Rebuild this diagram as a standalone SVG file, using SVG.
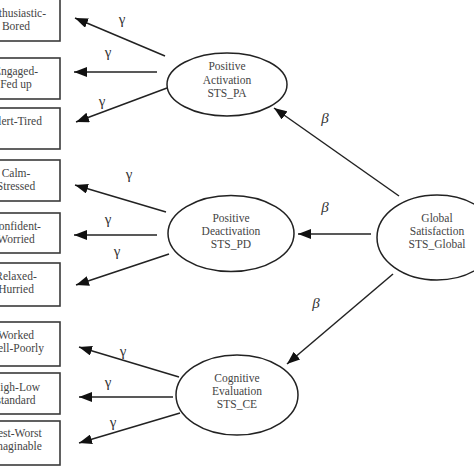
<svg xmlns="http://www.w3.org/2000/svg" width="474" height="474" viewBox="0 0 474 474">
<style>
.box{fill:#fff;stroke:#3a3a3a;stroke-width:1.6}
.ell{fill:#fff;stroke:#222;stroke-width:1.5}
.t{font-family:"Liberation Serif","Times New Roman",serif;font-size:11.5px;fill:#444;text-anchor:middle}
.c{stroke:#222;stroke-width:1.5;fill:none;marker-end:url(#ah)}
.g{font-family:"Liberation Serif","Times New Roman",serif;font-size:15px;fill:#333;text-anchor:middle}
.b{font-family:"Liberation Serif","Times New Roman",serif;font-size:15px;font-style:italic;fill:#333;text-anchor:middle}
</style>
<defs>
<marker id="ah" markerUnits="userSpaceOnUse" markerWidth="14" markerHeight="10" refX="13" refY="5" orient="auto">
<path d="M0,0 L13,5 L0,10 z" fill="#111"/>
</marker>
</defs>
<rect width="474" height="474" fill="#fff"/>
<g id="connectors">
<line class="c" x1="165" y1="56" x2="75" y2="18"/>
<line class="c" x1="157" y1="72" x2="74" y2="72"/>
<line class="c" x1="167" y1="88" x2="76" y2="122"/>
<line class="c" x1="166" y1="212" x2="75" y2="185"/>
<line class="c" x1="157" y1="235" x2="74" y2="235"/>
<line class="c" x1="169" y1="254" x2="76" y2="285"/>
<line class="c" x1="179" y1="377" x2="79" y2="347"/>
<line class="c" x1="173" y1="397" x2="79" y2="397"/>
<line class="c" x1="180" y1="413" x2="79" y2="443"/>
<line class="c" x1="399" y1="196" x2="274" y2="108"/>
<line class="c" x1="371" y1="234" x2="298" y2="234"/>
<line class="c" x1="393" y1="274" x2="287" y2="364"/>
<text class="g" x="122" y="24">γ</text>
<text class="g" x="108" y="57">γ</text>
<text class="g" x="102" y="106">γ</text>
<text class="g" x="129" y="179">γ</text>
<text class="g" x="108" y="224">γ</text>
<text class="g" x="117" y="256">γ</text>
<text class="g" x="123" y="356">γ</text>
<text class="g" x="108" y="387">γ</text>
<text class="g" x="113" y="427">γ</text>
<text class="b" x="325" y="123">β</text>
<text class="b" x="325" y="212">β</text>
<text class="b" x="316" y="308">β</text>
</g>
<g id="box1"><rect class="box" x="-28" y="-2" width="88" height="43"/><text class="t" x="16" y="17">Enthusiastic-</text><text class="t" x="16" y="30">Bored</text></g>
<g id="box2"><rect class="box" x="-28" y="58" width="88" height="41"/><text class="t" x="16" y="75">Engaged-</text><text class="t" x="16" y="88">Fed up</text></g>
<g id="box3"><rect class="box" x="-28" y="108" width="88" height="41"/><text class="t" x="16" y="125">Alert-Tired</text></g>
<g id="box4"><rect class="box" x="-28" y="160" width="88" height="41"/><text class="t" x="16" y="177">Calm-</text><text class="t" x="16" y="190">Stressed</text></g>
<g id="box5"><rect class="box" x="-28" y="213" width="88" height="40"/><text class="t" x="16" y="230">Confident-</text><text class="t" x="16" y="243">Worried</text></g>
<g id="box6"><rect class="box" x="-28" y="263" width="88" height="43"/><text class="t" x="16" y="280">Relaxed-</text><text class="t" x="16" y="293">Hurried</text></g>
<g id="box7"><rect class="box" x="-28" y="322" width="88" height="44"/><text class="t" x="16" y="339">Worked</text><text class="t" x="16" y="352">Well-Poorly</text></g>
<g id="box8"><rect class="box" x="-28" y="373" width="88" height="41"/><text class="t" x="16" y="391">High-Low</text><text class="t" x="16" y="404">standard</text></g>
<g id="box9"><rect class="box" x="-28" y="421" width="88" height="44"/><text class="t" x="16" y="437">Best-Worst</text><text class="t" x="16" y="450">Imaginable</text></g>
<g id="pa"><ellipse class="ell" cx="227" cy="84.5" rx="60" ry="31.5"/><text class="t" x="227" y="70">Positive</text><text class="t" x="227" y="84">Activation</text><text class="t" x="227" y="97">STS_PA</text></g>
<g id="pd"><ellipse class="ell" cx="231" cy="233.5" rx="63" ry="38"/><text class="t" x="231" y="222">Positive</text><text class="t" x="231" y="235">Deactivation</text><text class="t" x="231" y="248">STS_PD</text></g>
<g id="ce"><ellipse class="ell" cx="237" cy="395" rx="61" ry="40"/><text class="t" x="237" y="382">Cognitive</text><text class="t" x="237" y="395">Evaluation</text><text class="t" x="237" y="408">STS_CE</text></g>
<g id="global"><ellipse class="ell" cx="437" cy="237.5" rx="60" ry="42.5"/><text class="t" x="437" y="222">Global</text><text class="t" x="437" y="235">Satisfaction</text><text class="t" x="437" y="248">STS_Global</text></g>
</svg>
